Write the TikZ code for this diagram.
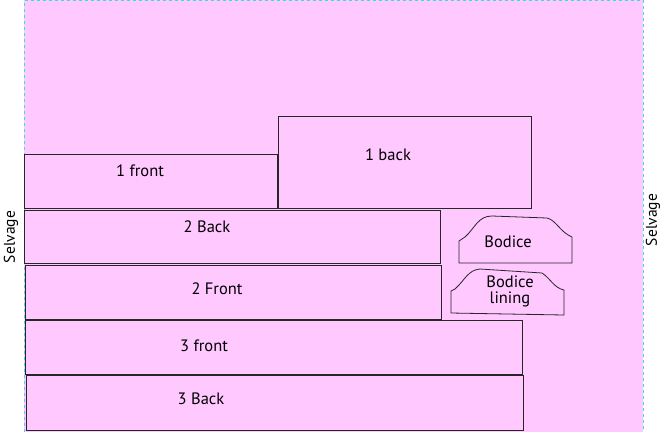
\documentclass[tikz,border=0pt]{standalone}
\usepackage{fontspec}
\setmainfont{PT Sans}
\definecolor{bg}{HTML}{FFC8FF}
\definecolor{edge}{HTML}{33E0E0}
\begin{document}
\begin{tikzpicture}[x=1pt,y=-1pt,
  piece/.style={draw=black!85,line width=0.8pt},
  lab/.style={font=\fontsize{16.5}{18}\selectfont},
  sel/.style={font=\fontsize{15.5}{17}\selectfont,rotate=90}]
\useasboundingbox (0,0) rectangle (663,432);
\fill[bg] (24,0) rectangle (643,432);
\draw[edge,dashed,line width=0.8pt] (24,432) -- (24,0.5) -- (643,0.5) -- (643,432);
\draw[piece] (24,154) rectangle (277,208);
\draw[piece] (278,116) rectangle (531,208);
\draw[piece] (24,210) rectangle (440,263);
\draw[piece] (25,265) rectangle (441,319);
\draw[piece] (25,320) rectangle (522,374);
\draw[piece] (26,375) rectangle (523,430);
\node[lab] (f1) at (140,171) {1 front};
\node[lab] (b1) at (388,155) {1 back};
\node[lab] (b2) at (207,227) {2 Back};
\node[lab] (f2) at (217,289) {2 Front};
\node[lab] (f3) at (204,346) {3 front};
\node[lab] (b3) at (201,399) {3 Back};
\draw[piece] (459,263) -- (459,241) -- (465,237) .. controls (475,228) and (478,216) .. (492,216)
  -- (547,218) .. controls (556,220) and (560,232) .. (572,237) -- (572,263) -- cycle;
\draw[piece] (451,313) -- (451,291) -- (455,289) .. controls (465,280) and (468,270) .. (480,269)
  -- (542,273) .. controls (550,278) and (554,288) .. (564,290) -- (564,315) -- cycle;
\node[lab] (bod) at (508,242) {Bodice};
\node[lab,align=center,inner sep=0pt] (bl) at (510,291) {Bodice\\[-2pt]lining};
\node[sel] (s1) at (11,237) {Selvage};
\node[sel] (s2) at (653,220) {Selvage};
\end{tikzpicture}
\end{document}
